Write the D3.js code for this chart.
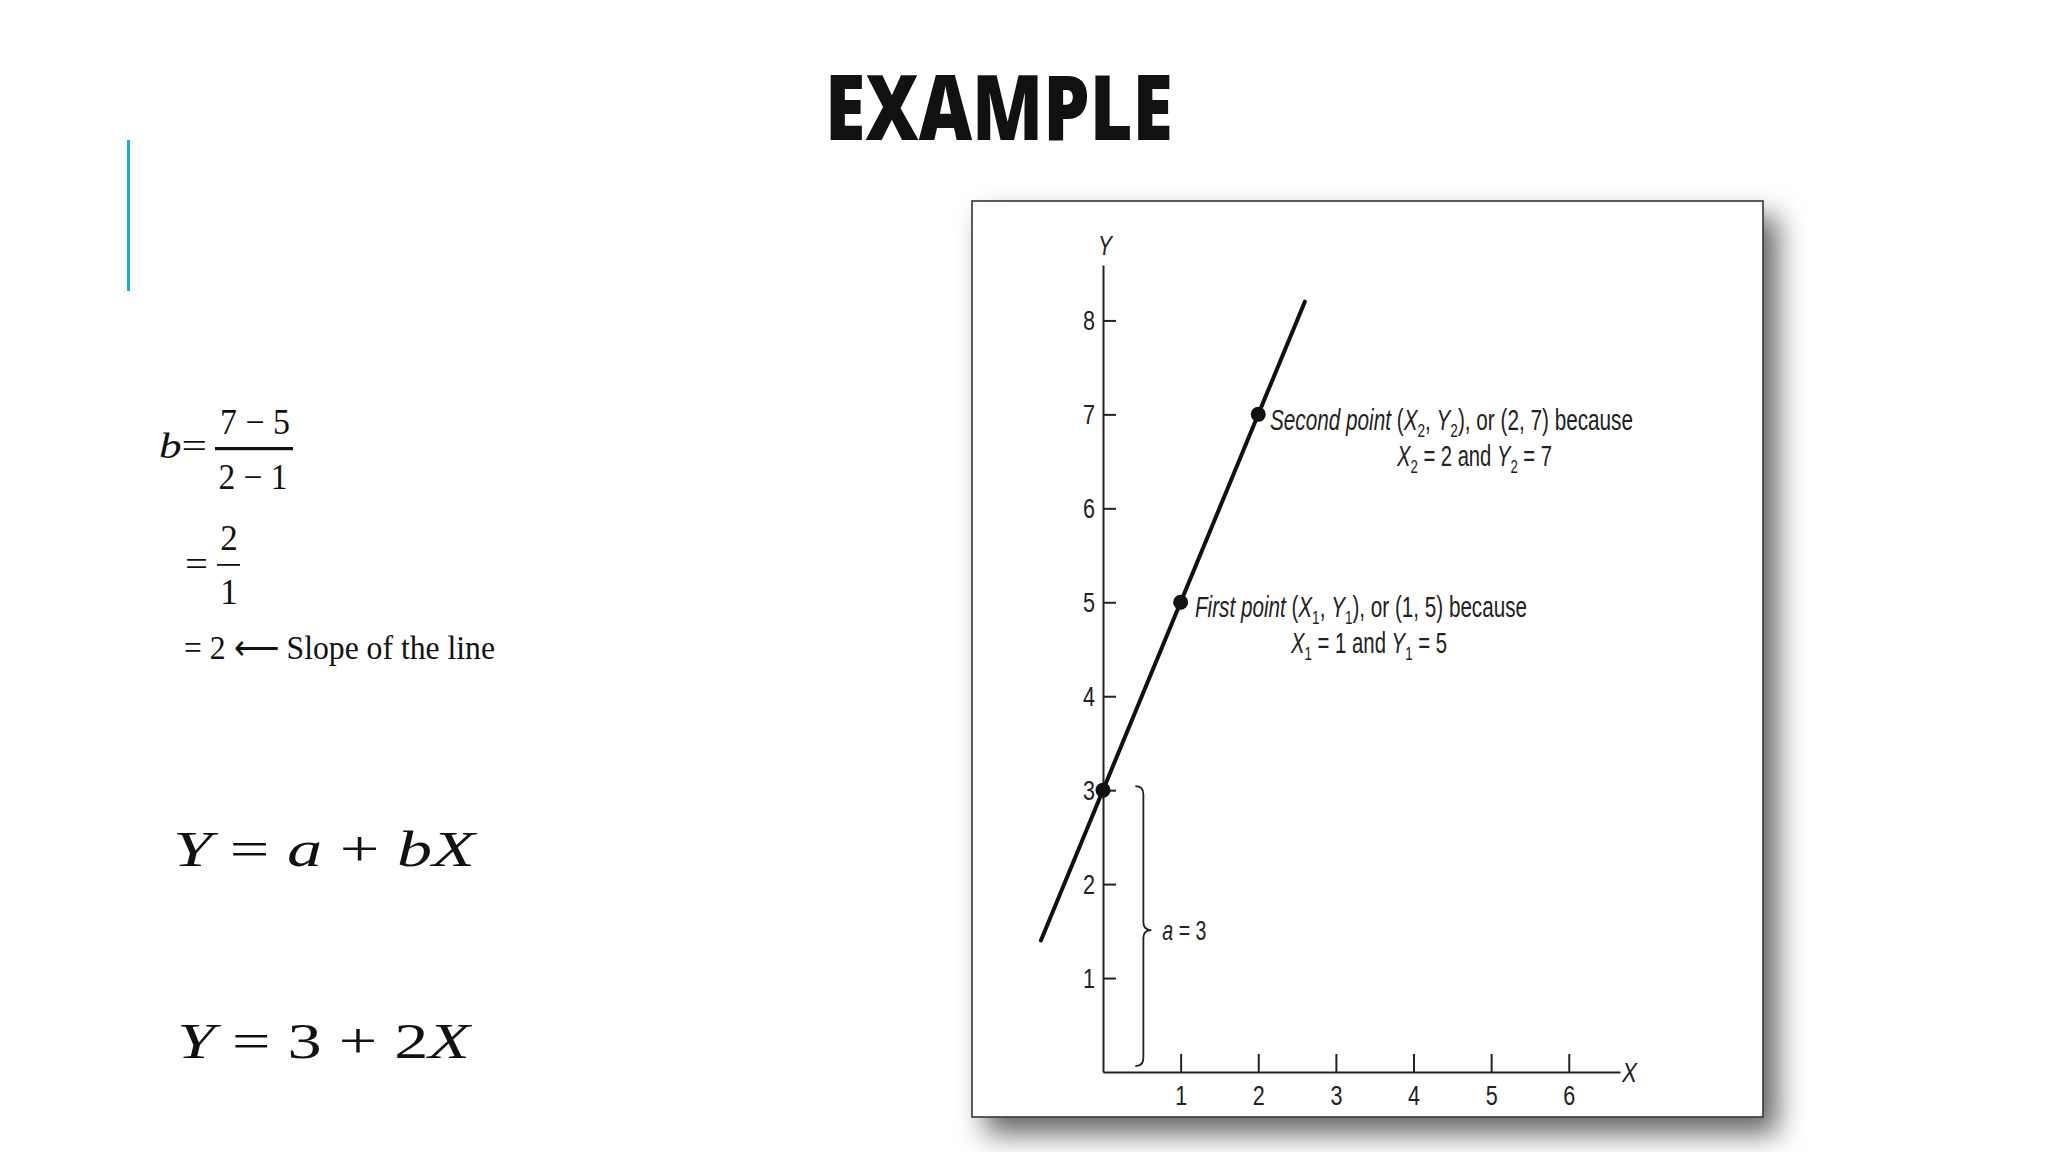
<!DOCTYPE html>
<html>
<head>
<meta charset="utf-8">
<script src="https://cdn.jsdelivr.net/npm/d3@7"></script>
<style>
  html, body { margin: 0; padding: 0; background: #fff; }
  svg { display: block; }
  .cond { font-family: "Liberation Sans Narrow", "Liberation Sans", Arial, sans-serif; }
  .serif { font-family: "Liberation Serif", "Times New Roman", serif; }
</style>
</head>
<body>
<svg id="chart" width="2048" height="1152"></svg>
<script>
// chart data
let xTicks = [1, 2, 3, 4, 5, 6];
let yTicks = [1, 2, 3, 4, 5, 6, 7, 8];
let xExtent = [0, 6.66];
let yExtent = [0, 8.59];
let lineXs = [-0.8, 2.6];
let lineYs = [1.4, 8.2];
let pointXs = [0, 1, 2];
let pointYs = [3, 5, 7];
let interceptA = 3;

let svg = d3.select('#chart');

let defs = svg.append('defs');
let f = defs.append('filter').attr('id', 'shadow')
    .attr('x', '-10%').attr('y', '-10%').attr('width', '130%').attr('height', '130%');
f.append('feDropShadow')
    .attr('dx', 14).attr('dy', 16)
    .attr('stdDeviation', 14)
    .attr('flood-color', '#000')
    .attr('flood-opacity', 0.6);

// title
svg.append('text')
    .attr('x', 825).attr('y', 140)
    .attr('font-family', '"Open Sans", "Noto Sans", sans-serif')
    .attr('font-weight', 800)
    .attr('font-size', 91)
    .attr('textLength', 348)
    .attr('lengthAdjust', 'spacingAndGlyphs')
    .attr('fill', '#111')
    .text('EXAMPLE');

// accent bar
svg.append('rect')
    .attr('x', 127).attr('y', 140)
    .attr('width', 3).attr('height', 151)
    .attr('fill', '#1ea6df');

// left formulas
let lf = svg.append('g').attr('class', 'serif').attr('fill', '#111');

let t1 = lf.append('text').attr('x', 159).attr('y', 458).attr('font-size', 35)
    .attr('textLength', 48).attr('lengthAdjust', 'spacingAndGlyphs');
t1.append('tspan').attr('font-style', 'italic').text('b');
t1.append('tspan').text('=');

lf.append('text').attr('x', 255).attr('y', 434).attr('font-size', 35)
    .attr('text-anchor', 'middle').attr('textLength', 70).attr('lengthAdjust', 'spacingAndGlyphs')
    .text('7 − 5');
lf.append('rect').attr('x', 215).attr('y', 447).attr('width', 78).attr('height', 3.2);
lf.append('text').attr('x', 253).attr('y', 489).attr('font-size', 35)
    .attr('text-anchor', 'middle').attr('textLength', 69).attr('lengthAdjust', 'spacingAndGlyphs')
    .text('2 − 1');

lf.append('text').attr('x', 185).attr('y', 576).attr('font-size', 35)
    .attr('textLength', 23).attr('lengthAdjust', 'spacingAndGlyphs').text('=');
lf.append('text').attr('x', 229).attr('y', 550).attr('font-size', 35)
    .attr('text-anchor', 'middle').text('2');
lf.append('rect').attr('x', 217).attr('y', 564).attr('width', 23).attr('height', 1.8);
lf.append('text').attr('x', 229).attr('y', 604).attr('font-size', 35)
    .attr('text-anchor', 'middle').text('1');

lf.append('text').attr('x', 184).attr('y', 659).attr('font-size', 33)
    .attr('textLength', 311).attr('lengthAdjust', 'spacingAndGlyphs')
    .text('= 2 ⟵ Slope of the line');

let e1 = lf.append('text').attr('x', 173).attr('y', 866).attr('font-size', 50)
    .attr('textLength', 302).attr('lengthAdjust', 'spacingAndGlyphs');
e1.append('tspan').attr('font-style', 'italic').text('Y');
e1.append('tspan').text(' = ');
e1.append('tspan').attr('font-style', 'italic').text('a');
e1.append('tspan').text(' + ');
e1.append('tspan').attr('font-style', 'italic').text('bX');

let e2 = lf.append('text').attr('x', 177).attr('y', 1058).attr('font-size', 50)
    .attr('textLength', 293).attr('lengthAdjust', 'spacingAndGlyphs');
e2.append('tspan').attr('font-style', 'italic').text('Y');
e2.append('tspan').text(' = 3 + 2');
e2.append('tspan').attr('font-style', 'italic').text('X');

// framed figure
svg.append('rect')
    .attr('x', 972).attr('y', 201)
    .attr('width', 791).attr('height', 916)
    .attr('fill', '#fff')
    .attr('stroke', '#333')
    .attr('stroke-width', 1.6)
    .attr('filter', 'url(#shadow)');

let x = d3.scaleLinear().domain(xExtent).range([1103, 1620]);
let y = d3.scaleLinear().domain(yExtent).range([1072, 265]);

let g = svg.append('g').attr('class', 'cond');

let xAxis = d3.axisBottom(x)
    .tickValues(xTicks)
    .tickSizeInner(-18)
    .tickSizeOuter(0)
    .tickPadding(13)
    .tickFormat(d3.format('d'));

let yAxis = d3.axisLeft(y)
    .tickValues(yTicks)
    .tickSizeInner(-13)
    .tickSizeOuter(0)
    .tickPadding(8)
    .tickFormat(d3.format('d'));

let gx = g.append('g').attr('transform', 'translate(0,' + y(0) + ')').call(xAxis);
let gy = g.append('g').attr('transform', 'translate(' + x(0) + ',0)').call(yAxis);

[gx, gy].forEach(function (a) {
    a.select('.domain').attr('stroke', '#222').attr('stroke-width', 2);
    a.selectAll('.tick line').attr('stroke', '#222').attr('stroke-width', 2);
    a.selectAll('.tick text')
        .attr('font-size', 28)
        .attr('font-family', '"Liberation Sans Narrow", "Liberation Sans", sans-serif')
        .attr('textLength', 12)
        .attr('lengthAdjust', 'spacingAndGlyphs')
        .attr('fill', '#222');
});

g.append('text')
    .attr('x', x(0) + 2).attr('y', 255)
    .attr('text-anchor', 'middle')
    .attr('font-size', 28).attr('font-style', 'italic').attr('fill', '#222')
    .attr('textLength', 14).attr('lengthAdjust', 'spacingAndGlyphs')
    .text('Y');
g.append('text')
    .attr('x', x(xExtent[1]) + 2).attr('y', y(0) + 10)
    .attr('font-size', 28).attr('font-style', 'italic').attr('fill', '#222')
    .attr('textLength', 15).attr('lengthAdjust', 'spacingAndGlyphs')
    .text('X');

// the line Y = a + bX
let line = d3.line()
    .x(function (d) { return x(d[0]); })
    .y(function (d) { return y(d[1]); });

g.append('path')
    .datum(d3.zip(lineXs, lineYs))
    .attr('d', line)
    .attr('stroke', '#111')
    .attr('stroke-width', 4)
    .attr('stroke-linecap', 'round')
    .attr('fill', 'none');

g.selectAll('.pt')
    .data(d3.zip(pointXs, pointYs))
    .enter()
    .append('circle')
    .attr('class', 'pt')
    .attr('cx', function (d) { return x(d[0]); })
    .attr('cy', function (d) { return y(d[1]); })
    .attr('r', 7.5)
    .attr('fill', '#111');

// brace for the intercept
let bx = x(0.52);
let braceTop = y(interceptA) - 4, braceBot = y(0) - 6, braceMid = (braceTop + braceBot) / 2 + 4;
g.append('path')
    .attr('d', 'M' + (bx - 8) + ',' + braceTop +
        ' Q' + bx + ',' + braceTop + ' ' + bx + ',' + (braceTop + 8) +
        ' L' + bx + ',' + (braceMid - 8) +
        ' Q' + bx + ',' + braceMid + ' ' + (bx + 8) + ',' + braceMid +
        ' Q' + bx + ',' + braceMid + ' ' + bx + ',' + (braceMid + 8) +
        ' L' + bx + ',' + (braceBot - 8) +
        ' Q' + bx + ',' + braceBot + ' ' + (bx - 8) + ',' + braceBot)
    .attr('stroke', '#222')
    .attr('stroke-width', 1.8)
    .attr('fill', 'none');

let at = g.append('text')
    .attr('x', bx + 19).attr('y', braceMid + 10)
    .attr('font-size', 28).attr('fill', '#222')
    .attr('textLength', 44).attr('lengthAdjust', 'spacingAndGlyphs');
at.append('tspan').attr('font-style', 'italic').text('a');
at.append('tspan').text(' = ' + interceptA);

// annotations
function subText(sel, parts) {
    parts.forEach(function (p) {
        let t = sel.append('tspan').text(p[0]);
        if (p[1] === 'i') t.attr('font-style', 'italic');
        if (p[1] === 's') t.attr('font-size', 19).attr('dy', 7);
        if (p[2]) t.attr('dy', p[2]);
    });
}

let s1 = g.append('text').attr('x', 1270).attr('y', 430)
    .attr('font-size', 29).attr('fill', '#222')
    .attr('textLength', 363).attr('lengthAdjust', 'spacingAndGlyphs');
subText(s1, [['Second point', 'i'], [' (', ''], ['X', 'i'], ['2', 's'], [', ', '', -7], ['Y', 'i'],
    ['2', 's'], ['), or (2, 7) because', '', -7]]);

let s2 = g.append('text').attr('x', 1397).attr('y', 466)
    .attr('font-size', 29).attr('fill', '#222')
    .attr('textLength', 155).attr('lengthAdjust', 'spacingAndGlyphs');
subText(s2, [['X', 'i'], ['2', 's'], [' = 2 and ', '', -7], ['Y', 'i'], ['2', 's'], [' = 7', '', -7]]);

let f1 = g.append('text').attr('x', 1195).attr('y', 617)
    .attr('font-size', 29).attr('fill', '#222')
    .attr('textLength', 332).attr('lengthAdjust', 'spacingAndGlyphs');
subText(f1, [['First point', 'i'], [' (', ''], ['X', 'i'], ['1', 's'], [', ', '', -7], ['Y', 'i'],
    ['1', 's'], ['), or (1, 5) because', '', -7]]);

let f2 = g.append('text').attr('x', 1291).attr('y', 653)
    .attr('font-size', 29).attr('fill', '#222')
    .attr('textLength', 156).attr('lengthAdjust', 'spacingAndGlyphs');
subText(f2, [['X', 'i'], ['1', 's'], [' = 1 and ', '', -7], ['Y', 'i'], ['1', 's'], [' = 5', '', -7]]);
</script>
</body>
</html>
